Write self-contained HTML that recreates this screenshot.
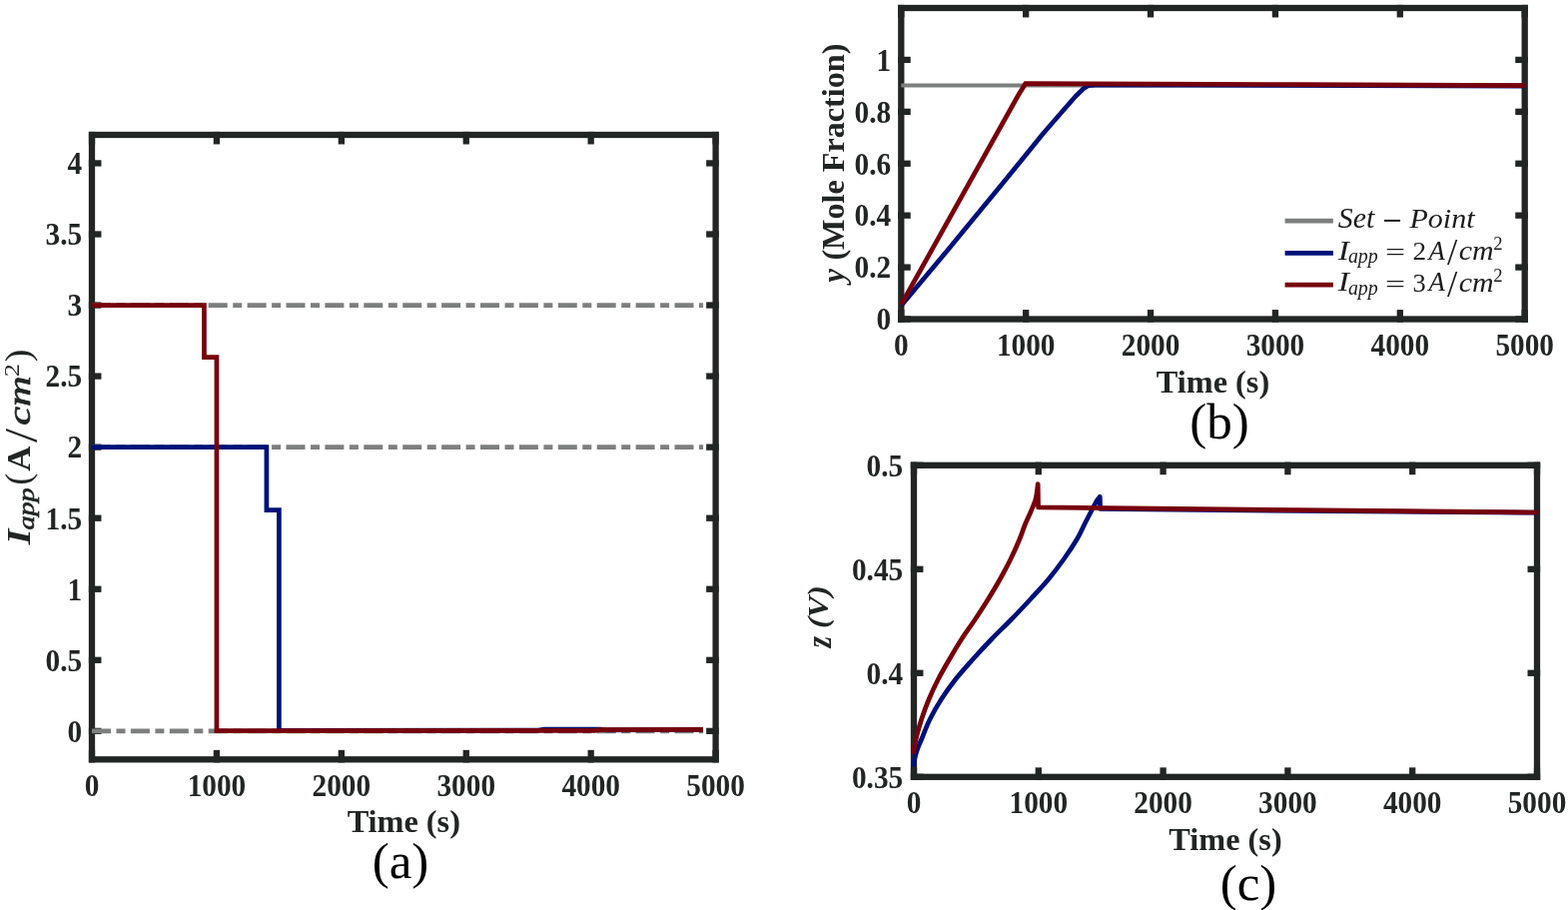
<!DOCTYPE html>
<html><head><meta charset="utf-8"><title>Figure</title>
<style>html,body{margin:0;padding:0;background:#fff;}svg{display:block;}</style>
</head><body>
<svg width="1570" height="911" viewBox="0 0 1570 911">
<rect width="1570" height="911" fill="#fff"/>
<g stroke="#212524" stroke-width="6.3" stroke-linecap="square" fill="none"><line x1="92" y1="760.3" x2="92" y2="754"/><line x1="92" y1="135" x2="92" y2="141.3"/><line x1="216.92" y1="760.3" x2="216.92" y2="754"/><line x1="216.92" y1="135" x2="216.92" y2="141.3"/><line x1="341.84" y1="760.3" x2="341.84" y2="754"/><line x1="341.84" y1="135" x2="341.84" y2="141.3"/><line x1="466.76" y1="760.3" x2="466.76" y2="754"/><line x1="466.76" y1="135" x2="466.76" y2="141.3"/><line x1="591.68" y1="760.3" x2="591.68" y2="754"/><line x1="591.68" y1="135" x2="591.68" y2="141.3"/><line x1="716.6" y1="760.3" x2="716.6" y2="754"/><line x1="716.6" y1="135" x2="716.6" y2="141.3"/><line x1="92" y1="731.88" x2="98.3" y2="731.88"/><line x1="716.6" y1="731.88" x2="710.3" y2="731.88"/><line x1="92" y1="660.82" x2="98.3" y2="660.82"/><line x1="716.6" y1="660.82" x2="710.3" y2="660.82"/><line x1="92" y1="589.76" x2="98.3" y2="589.76"/><line x1="716.6" y1="589.76" x2="710.3" y2="589.76"/><line x1="92" y1="518.71" x2="98.3" y2="518.71"/><line x1="716.6" y1="518.71" x2="710.3" y2="518.71"/><line x1="92" y1="447.65" x2="98.3" y2="447.65"/><line x1="716.6" y1="447.65" x2="710.3" y2="447.65"/><line x1="92" y1="376.59" x2="98.3" y2="376.59"/><line x1="716.6" y1="376.59" x2="710.3" y2="376.59"/><line x1="92" y1="305.54" x2="98.3" y2="305.54"/><line x1="716.6" y1="305.54" x2="710.3" y2="305.54"/><line x1="92" y1="234.48" x2="98.3" y2="234.48"/><line x1="716.6" y1="234.48" x2="710.3" y2="234.48"/><line x1="92" y1="163.42" x2="98.3" y2="163.42"/><line x1="716.6" y1="163.42" x2="710.3" y2="163.42"/><rect x="92" y="135" width="624.6" height="625.3" fill="none"/></g>
<g font-family="'Liberation Serif', 'Times New Roman', serif" font-weight="bold" font-size="29.3" fill="#212524"><text transform="translate(82.2,742.68) scale(1,1.045)" text-anchor="end">0</text><text transform="translate(82.2,671.62) scale(1,1.045)" text-anchor="end">0.5</text><text transform="translate(82.2,600.56) scale(1,1.045)" text-anchor="end">1</text><text transform="translate(82.2,529.51) scale(1,1.045)" text-anchor="end">1.5</text><text transform="translate(82.2,458.45) scale(1,1.045)" text-anchor="end">2</text><text transform="translate(82.2,387.39) scale(1,1.045)" text-anchor="end">2.5</text><text transform="translate(82.2,316.34) scale(1,1.045)" text-anchor="end">3</text><text transform="translate(82.2,245.28) scale(1,1.045)" text-anchor="end">3.5</text><text transform="translate(82.2,174.22) scale(1,1.045)" text-anchor="end">4</text><text transform="translate(92,796.6) scale(1,1.045)" text-anchor="middle">0</text><text transform="translate(216.92,796.6) scale(1,1.045)" text-anchor="middle">1000</text><text transform="translate(341.84,796.6) scale(1,1.045)" text-anchor="middle">2000</text><text transform="translate(466.76,796.6) scale(1,1.045)" text-anchor="middle">3000</text><text transform="translate(591.68,796.6) scale(1,1.045)" text-anchor="middle">4000</text><text transform="translate(716.6,796.6) scale(1,1.045)" text-anchor="middle">5000</text></g>
<line x1="92" y1="305.54" x2="704.11" y2="305.54" stroke="#7d7f7e" stroke-width="4.7" stroke-dasharray="19 5.5 9 5.4"/>
<line x1="92" y1="447.65" x2="704.11" y2="447.65" stroke="#7d7f7e" stroke-width="4.7" stroke-dasharray="19 5.5 9 5.4"/>
<line x1="92" y1="731.88" x2="704.11" y2="731.88" stroke="#7d7f7e" stroke-width="4.7" stroke-dasharray="19 5.5 9 5.4"/>
<polyline points="92,447.65 266.89,447.65 266.89,510.61 279.38,510.61 279.38,731.4 539,731.1 545,730 601,730 607,730.8 704,730.5" fill="none" stroke="#001078" stroke-width="4.7" stroke-linejoin="miter" stroke-miterlimit="10"/>
<polyline points="92,305.54 204.43,305.54 204.43,357.55 216.92,357.55 216.92,731.7 596,731.4 600,730.7 704,730.4" fill="none" stroke="#76000c" stroke-width="4.7" stroke-linejoin="miter" stroke-miterlimit="10"/>
<g stroke="#212524" stroke-width="6.3" stroke-linecap="square" fill="none"><line x1="902.3" y1="319.5" x2="902.3" y2="313.2"/><line x1="902.3" y1="8" x2="902.3" y2="14.3"/><line x1="1027.18" y1="319.5" x2="1027.18" y2="313.2"/><line x1="1027.18" y1="8" x2="1027.18" y2="14.3"/><line x1="1152.06" y1="319.5" x2="1152.06" y2="313.2"/><line x1="1152.06" y1="8" x2="1152.06" y2="14.3"/><line x1="1276.94" y1="319.5" x2="1276.94" y2="313.2"/><line x1="1276.94" y1="8" x2="1276.94" y2="14.3"/><line x1="1401.82" y1="319.5" x2="1401.82" y2="313.2"/><line x1="1401.82" y1="8" x2="1401.82" y2="14.3"/><line x1="1526.7" y1="319.5" x2="1526.7" y2="313.2"/><line x1="1526.7" y1="8" x2="1526.7" y2="14.3"/><line x1="902.3" y1="319.5" x2="908.6" y2="319.5"/><line x1="1526.7" y1="319.5" x2="1520.4" y2="319.5"/><line x1="902.3" y1="267.58" x2="908.6" y2="267.58"/><line x1="1526.7" y1="267.58" x2="1520.4" y2="267.58"/><line x1="902.3" y1="215.67" x2="908.6" y2="215.67"/><line x1="1526.7" y1="215.67" x2="1520.4" y2="215.67"/><line x1="902.3" y1="163.75" x2="908.6" y2="163.75"/><line x1="1526.7" y1="163.75" x2="1520.4" y2="163.75"/><line x1="902.3" y1="111.83" x2="908.6" y2="111.83"/><line x1="1526.7" y1="111.83" x2="1520.4" y2="111.83"/><line x1="902.3" y1="59.92" x2="908.6" y2="59.92"/><line x1="1526.7" y1="59.92" x2="1520.4" y2="59.92"/><rect x="902.3" y="8" width="624.4" height="311.5" fill="none"/></g>
<g font-family="'Liberation Serif', 'Times New Roman', serif" font-weight="bold" font-size="29.3" fill="#212524"><text transform="translate(892.2,330.3) scale(1,1.045)" text-anchor="end">0</text><text transform="translate(892.2,278.38) scale(1,1.045)" text-anchor="end">0.2</text><text transform="translate(892.2,226.47) scale(1,1.045)" text-anchor="end">0.4</text><text transform="translate(892.2,174.55) scale(1,1.045)" text-anchor="end">0.6</text><text transform="translate(892.2,122.63) scale(1,1.045)" text-anchor="end">0.8</text><text transform="translate(892.2,70.72) scale(1,1.045)" text-anchor="end">1</text><text transform="translate(902.3,355.6) scale(1,1.045)" text-anchor="middle">0</text><text transform="translate(1027.18,355.6) scale(1,1.045)" text-anchor="middle">1000</text><text transform="translate(1152.06,355.6) scale(1,1.045)" text-anchor="middle">2000</text><text transform="translate(1276.94,355.6) scale(1,1.045)" text-anchor="middle">3000</text><text transform="translate(1401.82,355.6) scale(1,1.045)" text-anchor="middle">4000</text><text transform="translate(1526.7,355.6) scale(1,1.045)" text-anchor="middle">5000</text></g>
<line x1="902.3" y1="85.5" x2="1526.7" y2="85.5" stroke="#7d7f7e" stroke-width="4.2"/>
<polyline points="902.5,305.7 949.2,250 1006.8,180 1044,134.2 1061.1,114.5 1076.6,96.8 1084.8,88.8 1090,85.6 1100,85 1526.7,86.2" fill="none" stroke="#001078" stroke-width="4.7" stroke-linejoin="round" stroke-miterlimit="10"/>
<polyline points="902.3,305 1019.6,95.3 1026.8,83.7 1300,84.6 1526.7,85.6" fill="none" stroke="#76000c" stroke-width="4.7" stroke-linejoin="miter" stroke-miterlimit="10"/>
<line x1="1286.6" y1="221.1" x2="1334.9" y2="221.1" stroke="#7d7f7e" stroke-width="4.7"/>
<line x1="1286.6" y1="253.4" x2="1334.9" y2="253.4" stroke="#001078" stroke-width="4.7"/>
<line x1="1286.6" y1="285.2" x2="1334.9" y2="285.2" stroke="#76000c" stroke-width="4.7"/>
<g font-family="'Liberation Serif', 'Times New Roman', serif">
<text x="1339.85" y="227.72" font-size="28.87" font-style="italic" font-weight="normal" fill="#1c1c1c" textLength="36.45" lengthAdjust="spacingAndGlyphs">Set</text>
<text x="1384.28" y="233.93" font-size="40.16" font-style="normal" font-weight="normal" fill="#1c1c1c" textLength="19.51" lengthAdjust="spacingAndGlyphs">−</text>
<text x="1411.46" y="227.73" font-size="27.24" font-style="italic" font-weight="normal" fill="#1c1c1c" textLength="65.14" lengthAdjust="spacingAndGlyphs">Point</text>
<text x="1339.73" y="259.70" font-size="27.18" font-style="italic" font-weight="normal" fill="#1c1c1c" textLength="11.16" lengthAdjust="spacingAndGlyphs">I</text>
<text x="1349.91" y="263.41" font-size="20.17" font-style="italic" font-weight="normal" fill="#1c1c1c" textLength="29.90" lengthAdjust="spacingAndGlyphs">app</text>
<text x="1387.12" y="261.42" font-size="25.20" font-style="normal" font-weight="normal" fill="#1c1c1c" textLength="20.12" lengthAdjust="spacingAndGlyphs">=</text>
<text x="1414.61" y="260.20" font-size="25.07" font-style="normal" font-weight="normal" fill="#1c1c1c" textLength="13.60" lengthAdjust="spacingAndGlyphs">2</text>
<text x="1430.46" y="259.70" font-size="26.51" font-style="italic" font-weight="normal" fill="#1c1c1c" textLength="16.25" lengthAdjust="spacingAndGlyphs">A</text>
<text x="1449.10" y="265.03" font-size="37.67" font-style="normal" font-weight="normal" fill="#1c1c1c" textLength="10.30" lengthAdjust="spacingAndGlyphs">/</text>
<text x="1460.78" y="259.94" font-size="26.82" font-style="italic" font-weight="normal" fill="#1c1c1c" textLength="34.88" lengthAdjust="spacingAndGlyphs">cm</text>
<text x="1495.28" y="249.90" font-size="18.12" font-style="normal" font-weight="normal" fill="#1c1c1c" textLength="9.35" lengthAdjust="spacingAndGlyphs">2</text>
<text x="1339.73" y="291.30" font-size="27.18" font-style="italic" font-weight="normal" fill="#1c1c1c" textLength="11.16" lengthAdjust="spacingAndGlyphs">I</text>
<text x="1349.91" y="295.01" font-size="20.17" font-style="italic" font-weight="normal" fill="#1c1c1c" textLength="29.90" lengthAdjust="spacingAndGlyphs">app</text>
<text x="1387.12" y="293.02" font-size="25.20" font-style="normal" font-weight="normal" fill="#1c1c1c" textLength="20.12" lengthAdjust="spacingAndGlyphs">=</text>
<text x="1414.54" y="291.56" font-size="24.71" font-style="normal" font-weight="normal" fill="#1c1c1c" textLength="13.19" lengthAdjust="spacingAndGlyphs">3</text>
<text x="1430.46" y="291.30" font-size="26.51" font-style="italic" font-weight="normal" fill="#1c1c1c" textLength="16.25" lengthAdjust="spacingAndGlyphs">A</text>
<text x="1449.10" y="296.63" font-size="37.67" font-style="normal" font-weight="normal" fill="#1c1c1c" textLength="10.30" lengthAdjust="spacingAndGlyphs">/</text>
<text x="1460.78" y="291.54" font-size="26.82" font-style="italic" font-weight="normal" fill="#1c1c1c" textLength="34.88" lengthAdjust="spacingAndGlyphs">cm</text>
<text x="1495.28" y="281.50" font-size="18.12" font-style="normal" font-weight="normal" fill="#1c1c1c" textLength="9.35" lengthAdjust="spacingAndGlyphs">2</text>
</g>
<g stroke="#212524" stroke-width="6.3" stroke-linecap="square" fill="none"><line x1="915" y1="777.8" x2="915" y2="771.5"/><line x1="915" y1="465.8" x2="915" y2="472.1"/><line x1="1039.8" y1="777.8" x2="1039.8" y2="771.5"/><line x1="1039.8" y1="465.8" x2="1039.8" y2="472.1"/><line x1="1164.6" y1="777.8" x2="1164.6" y2="771.5"/><line x1="1164.6" y1="465.8" x2="1164.6" y2="472.1"/><line x1="1289.4" y1="777.8" x2="1289.4" y2="771.5"/><line x1="1289.4" y1="465.8" x2="1289.4" y2="472.1"/><line x1="1414.2" y1="777.8" x2="1414.2" y2="771.5"/><line x1="1414.2" y1="465.8" x2="1414.2" y2="472.1"/><line x1="1539" y1="777.8" x2="1539" y2="771.5"/><line x1="1539" y1="465.8" x2="1539" y2="472.1"/><line x1="915" y1="777.8" x2="921.3" y2="777.8"/><line x1="1539" y1="777.8" x2="1532.7" y2="777.8"/><line x1="915" y1="673.8" x2="921.3" y2="673.8"/><line x1="1539" y1="673.8" x2="1532.7" y2="673.8"/><line x1="915" y1="569.8" x2="921.3" y2="569.8"/><line x1="1539" y1="569.8" x2="1532.7" y2="569.8"/><line x1="915" y1="465.8" x2="921.3" y2="465.8"/><line x1="1539" y1="465.8" x2="1532.7" y2="465.8"/><rect x="915" y="465.8" width="624" height="312" fill="none"/></g>
<g font-family="'Liberation Serif', 'Times New Roman', serif" font-weight="bold" font-size="29.3" fill="#212524"><text transform="translate(904.2,788.6) scale(1,1.045)" text-anchor="end">0.35</text><text transform="translate(904.2,684.6) scale(1,1.045)" text-anchor="end">0.4</text><text transform="translate(904.2,580.6) scale(1,1.045)" text-anchor="end">0.45</text><text transform="translate(904.2,476.6) scale(1,1.045)" text-anchor="end">0.5</text><text transform="translate(915,814.4) scale(1,1.045)" text-anchor="middle">0</text><text transform="translate(1039.8,814.4) scale(1,1.045)" text-anchor="middle">1000</text><text transform="translate(1164.6,814.4) scale(1,1.045)" text-anchor="middle">2000</text><text transform="translate(1289.4,814.4) scale(1,1.045)" text-anchor="middle">3000</text><text transform="translate(1414.2,814.4) scale(1,1.045)" text-anchor="middle">4000</text><text transform="translate(1539,814.4) scale(1,1.045)" text-anchor="middle">5000</text></g>
<path d="M914.6,767.5 C914.78,766.25 915.03,762.92 915.7,760 C916.37,757.08 917.43,753.33 918.6,750 C919.77,746.67 920.62,745 922.7,740 C924.78,735 927.8,726.67 931.1,720 C934.4,713.33 938.22,706.67 942.5,700 C946.78,693.33 951.53,686.67 956.8,680 C962.07,673.33 968.12,666.67 974.1,660 C980.08,653.33 986.27,646.67 992.7,640 C999.13,633.33 1006.2,626.67 1012.7,620 C1019.2,613.33 1025.53,606.67 1031.7,600 C1037.87,593.33 1044.15,586.67 1049.7,580 C1055.25,573.33 1060.25,566.67 1065,560 C1069.75,553.33 1074.73,545.83 1078.2,540 C1081.67,534.17 1083.42,529.67 1085.8,525 C1088.18,520.33 1090.4,516 1092.5,512 C1094.6,508 1096.93,503.45 1098.4,501 C1099.87,498.55 1100.82,497.92 1101.3,497.3 L1101.6,509.4 L1300,511.4 L1539,513.2" fill="none" stroke="#001078" stroke-width="4.7" stroke-linejoin="round"/>
<path d="M914.6,754.5 C915.02,752.08 915.75,745.75 917.1,740 C918.45,734.25 920.53,726.67 922.7,720 C924.87,713.33 927.32,706.67 930.1,700 C932.88,693.33 935.98,686.67 939.4,680 C942.82,673.33 946.72,666.67 950.6,660 C954.48,653.33 958.4,646.67 962.7,640 C967,633.33 971.97,626.67 976.4,620 C980.83,613.33 985.17,606.67 989.3,600 C993.43,593.33 997.45,586.67 1001.2,580 C1004.95,573.33 1008.53,566.67 1011.8,560 C1015.07,553.33 1018.37,545.83 1020.8,540 C1023.23,534.17 1024.5,529.67 1026.4,525 C1028.3,520.33 1030.45,516.17 1032.2,512 C1033.95,507.83 1035.82,503.83 1036.9,500 C1037.98,496.17 1038.32,491.57 1038.7,489 C1039.08,486.43 1039.12,485.33 1039.2,484.6 L1039.6,507.9 L1300,510.6 L1539,513" fill="none" stroke="#76000c" stroke-width="4.7" stroke-linejoin="round"/>
<g font-family="'Liberation Serif', 'Times New Roman', serif" font-weight="bold" font-size="32.3" fill="#212524" text-anchor="middle">
<text x="404.3" y="832.8">Time (s)</text>
<text x="1214.5" y="392.6">Time (s)</text>
<text x="1227" y="851.2">Time (s)</text>
</g>
<g font-family="'Liberation Serif', 'Times New Roman', serif" font-size="51" fill="#000" text-anchor="middle">
<text x="401" y="879">(a)</text>
<text x="1221" y="439.4">(b)</text>
<text x="1250" y="900.8">(c)</text>
</g>
<g font-family="'Liberation Serif', 'Times New Roman', serif" transform="rotate(-90)">
<text x="-545.21" y="29.90" font-size="34.21" font-style="italic" font-weight="bold" fill="#212524" textLength="15.67" lengthAdjust="spacingAndGlyphs">I</text>
<text x="-530.64" y="34.25" font-size="22.80" font-style="italic" font-weight="normal" fill="#212524" textLength="42.19" lengthAdjust="spacingAndGlyphs" stroke="#212524" stroke-width="0.6">app</text>
<text x="-485.54" y="30.26" font-size="35.40" font-style="normal" font-weight="normal" fill="#212524" textLength="11.67" lengthAdjust="spacingAndGlyphs">(</text>
<text x="-471.84" y="29.90" font-size="34.69" font-style="normal" font-weight="bold" fill="#212524" textLength="25.20" lengthAdjust="spacingAndGlyphs">A</text>
<text x="-443.00" y="37.34" font-size="47.24" font-style="normal" font-weight="normal" fill="#212524" textLength="14.10" lengthAdjust="spacingAndGlyphs">/</text>
<text x="-425.80" y="30.00" font-size="30.98" font-style="italic" font-weight="normal" fill="#212524" textLength="49.38" lengthAdjust="spacingAndGlyphs" stroke="#212524" stroke-width="0.7">cm</text>
<text x="-377.15" y="18.50" font-size="21.90" font-style="normal" font-weight="normal" fill="#212524" textLength="13.10" lengthAdjust="spacingAndGlyphs">2</text>
<text x="-362.32" y="30.26" font-size="35.40" font-style="normal" font-weight="normal" fill="#212524" textLength="12.58" lengthAdjust="spacingAndGlyphs">)</text>
<text x="-282.82" y="845.22" font-size="31.42" font-style="italic" font-weight="bold" fill="#212524" textLength="13.63" lengthAdjust="spacingAndGlyphs">y</text>
<text x="-260.61" y="844.67" font-size="30.66" font-style="normal" font-weight="bold" fill="#212524" textLength="217.03" lengthAdjust="spacingAndGlyphs">(Mole Fraction)</text>
<text x="-648.56" y="832.10" font-size="36.38" font-style="italic" font-weight="bold" fill="#212524" textLength="11.57" lengthAdjust="spacingAndGlyphs">z</text>
<text x="-629.08" y="828.71" font-size="30.00" font-style="italic" font-weight="bold" fill="#212524" textLength="42.84" lengthAdjust="spacingAndGlyphs">(V)</text>
</g>
</svg>
</body></html>
